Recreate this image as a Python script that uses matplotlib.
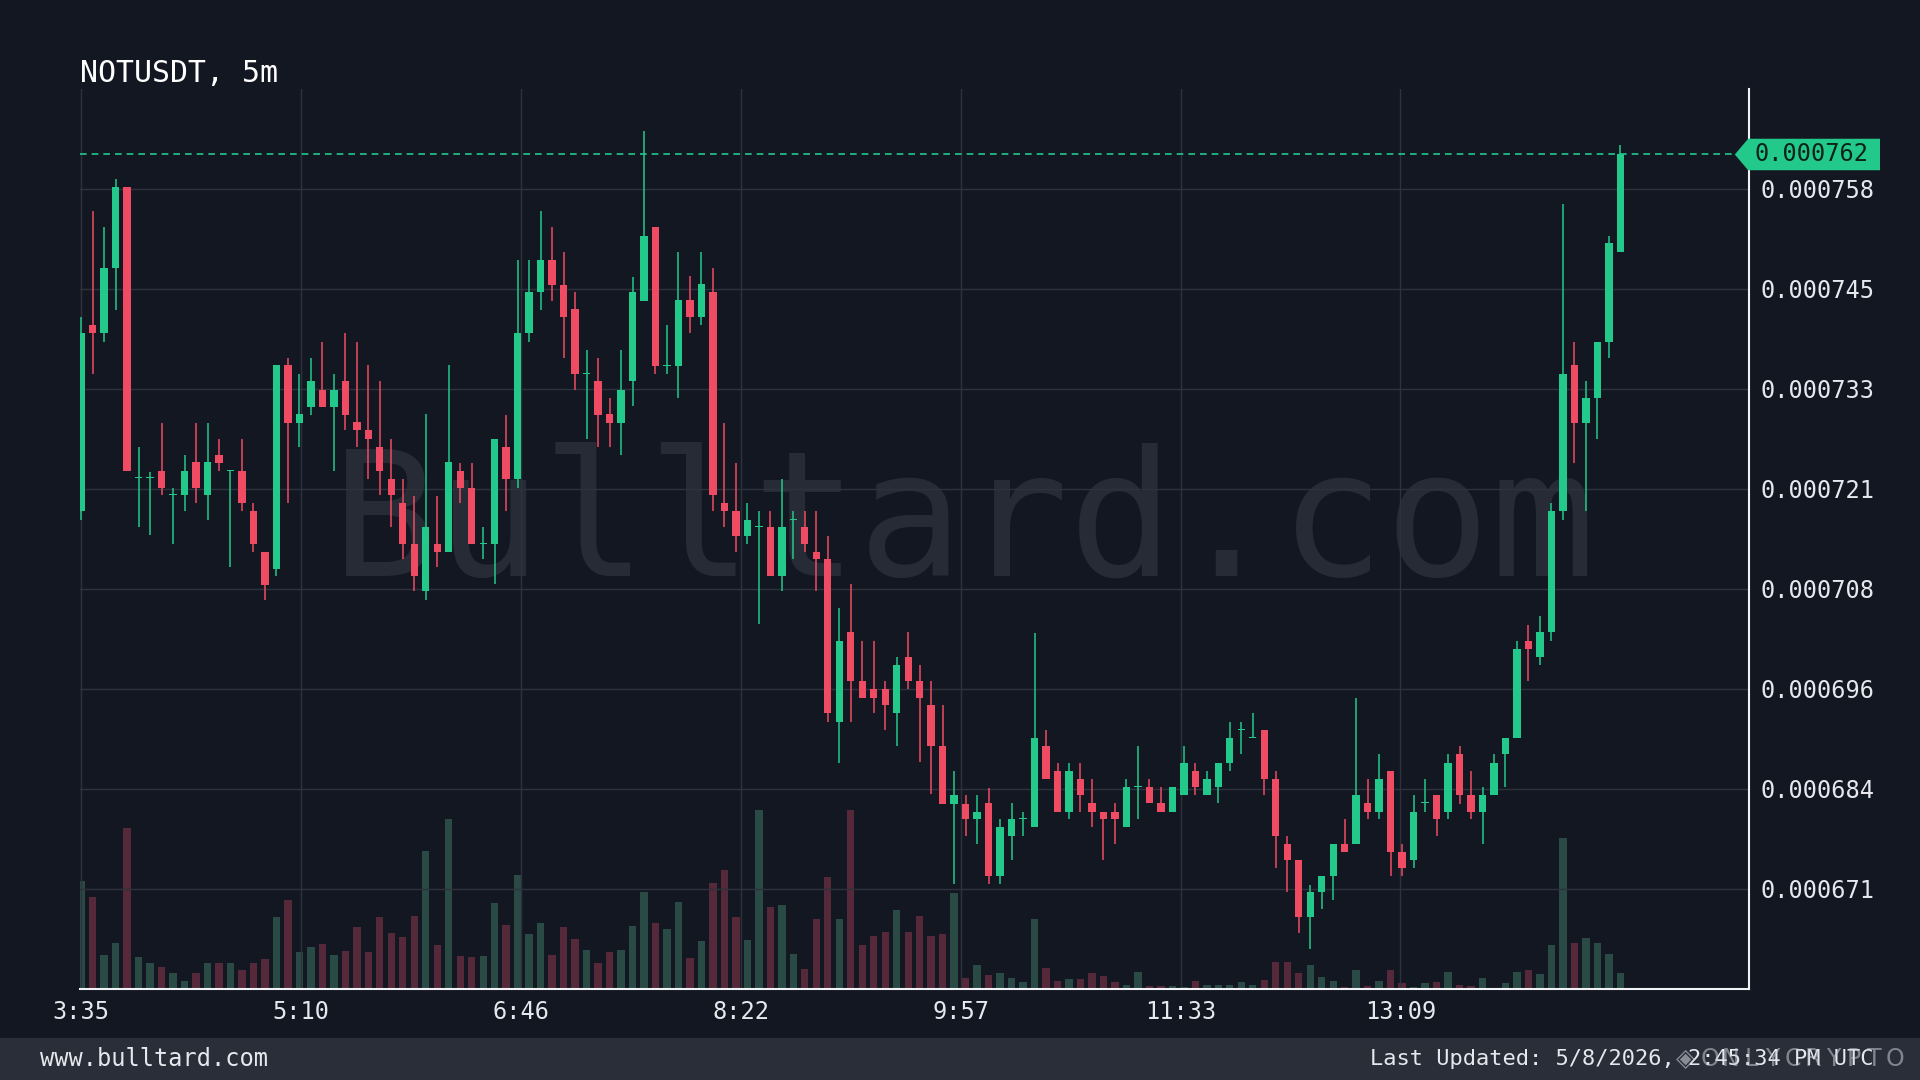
import numpy as np
import matplotlib.pyplot as plt
from matplotlib.patches import Polygon, Rectangle
from matplotlib.transforms import blended_transform_factory

# ---------- DATA ----------
# NOTUSDT 5m candles (prices in units of 1e-6 USDT)
opens = np.array([
    717.98, 741.06, 740.02, 748.09, 758.10, 722.08, 722.08, 722.91, 719.99, 719.99,
    724.03, 719.99, 724.93, 722.91, 722.91, 717.98, 712.97, 710.81, 736.06, 728.89,
    730.91, 733.00, 730.91, 734.04, 729.03, 727.99, 725.97, 721.94, 718.95, 713.94,
    708.03, 713.94, 712.97, 722.91, 720.90, 713.94, 713.94, 725.97, 721.94, 740.02,
    745.10, 749.06, 746.00, 743.01, 734.94, 734.04, 730.01, 728.89, 734.04, 744.00,
    753.10, 735.99, 735.99, 744.06, 741.97, 745.10, 718.95, 717.98, 714.91, 715.96,
    715.96, 709.98, 716.93, 715.96, 712.97, 712.00, 691.90, 702.95, 696.90, 695.93,
    695.93, 692.94, 699.89, 696.90, 693.91, 688.90, 681.74, 681.74, 679.79, 681.81,
    672.77, 677.77, 679.79, 678.82, 688.90, 685.77, 680.77, 684.80, 681.81, 680.77,
    680.77, 678.82, 683.83, 683.83, 681.81, 680.77, 682.78, 685.77, 682.78, 683.83,
    686.82, 690.92, 689.88, 690.92, 684.80, 676.73, 674.78, 667.69, 670.75, 672.77,
    676.80, 676.73, 681.81, 680.77, 685.77, 675.75, 674.78, 681.81, 682.78, 680.77,
    687.86, 682.78, 680.77, 682.78, 687.86, 689.88, 701.91, 699.89, 702.95, 717.98,
    736.06, 728.89, 732.02, 738.98, 750.04]) * 1e-6

highs = np.array([
    741.97, 755.11, 753.10, 759.15, 758.10, 725.97, 722.84, 728.89, 720.90, 724.93,
    728.89, 728.89, 726.95, 722.91, 726.95, 718.95, 712.97, 736.06, 736.89, 734.94,
    736.96, 738.98, 734.94, 740.02, 738.98, 736.06, 734.04, 726.95, 721.94, 719.85,
    730.01, 719.85, 736.06, 723.89, 723.89, 715.96, 726.95, 729.94, 749.06, 749.06,
    755.11, 753.10, 750.11, 745.10, 737.93, 736.96, 732.02, 737.93, 746.97, 765.06,
    753.10, 741.00, 750.11, 747.04, 750.11, 748.09, 728.89, 723.89, 718.95, 717.98,
    717.98, 721.94, 717.98, 717.98, 717.98, 714.91, 705.94, 709.00, 701.91, 701.91,
    696.90, 699.89, 702.95, 698.92, 696.90, 693.91, 685.77, 682.78, 682.78, 683.69,
    679.79, 681.81, 680.77, 702.88, 690.92, 686.82, 686.82, 686.82, 684.80, 680.77,
    681.81, 684.80, 688.83, 684.80, 683.83, 683.83, 688.83, 686.82, 685.77, 686.82,
    691.90, 691.90, 692.94, 690.92, 685.77, 677.77, 674.78, 671.72, 672.77, 676.80,
    679.79, 694.81, 684.80, 687.86, 685.77, 676.73, 682.78, 684.80, 682.78, 687.86,
    688.83, 685.77, 683.83, 687.86, 689.88, 701.91, 703.93, 704.97, 718.95, 756.02,
    738.98, 734.04, 738.98, 752.05, 763.32]) * 1e-6

lows = np.array([
    716.93, 734.94, 738.98, 742.94, 722.91, 715.96, 714.98, 719.99, 713.94, 717.98,
    718.95, 716.93, 722.91, 711.02, 717.98, 712.97, 707.00, 709.98, 718.95, 725.97,
    729.94, 730.91, 722.98, 727.99, 725.97, 721.94, 719.99, 715.96, 712.00, 708.03,
    707.00, 711.02, 712.97, 718.95, 713.94, 712.00, 709.00, 717.98, 720.90, 738.98,
    742.94, 744.00, 736.96, 733.00, 726.95, 725.97, 725.97, 724.93, 730.98, 744.00,
    734.94, 734.94, 732.02, 740.02, 741.00, 717.98, 715.96, 712.97, 713.94, 704.00,
    709.98, 708.03, 712.00, 712.97, 708.03, 691.90, 686.82, 691.90, 694.88, 692.94,
    690.92, 688.90, 695.93, 686.96, 683.00, 681.74, 671.86, 677.77, 676.73, 671.86,
    671.86, 674.78, 677.77, 678.82, 684.80, 680.77, 679.79, 680.77, 678.82, 674.78,
    676.73, 678.82, 679.79, 681.81, 680.77, 680.77, 682.78, 682.78, 682.78, 681.81,
    685.77, 687.86, 689.88, 682.78, 673.74, 670.75, 665.74, 663.80, 668.73, 669.78,
    675.75, 676.73, 679.79, 679.79, 672.77, 672.77, 673.74, 680.77, 677.77, 679.79,
    681.74, 679.79, 676.73, 682.78, 683.83, 689.88, 696.90, 698.92, 701.91, 716.93,
    723.89, 717.98, 726.95, 736.96, 750.04]) * 1e-6

closes = np.array([
    740.02, 740.02, 748.09, 758.10, 722.91, 722.08, 722.08, 720.90, 719.99, 722.91,
    720.90, 724.03, 723.95, 722.91, 718.95, 713.94, 708.86, 736.06, 728.89, 730.01,
    734.04, 730.91, 733.00, 729.94, 727.99, 726.95, 722.91, 719.99, 713.94, 709.98,
    715.96, 712.97, 724.03, 720.90, 713.94, 713.94, 726.95, 721.94, 740.02, 745.10,
    749.06, 746.00, 741.97, 734.94, 734.94, 729.94, 728.89, 733.00, 745.10, 752.05,
    735.99, 735.99, 744.06, 741.97, 746.07, 719.99, 717.98, 714.91, 716.93, 715.96,
    709.98, 715.96, 716.93, 713.94, 712.00, 692.94, 701.91, 696.90, 694.88, 694.88,
    693.91, 698.92, 696.90, 694.88, 688.90, 681.74, 682.78, 679.79, 680.77, 672.77,
    678.82, 679.79, 679.79, 689.88, 684.80, 680.77, 685.77, 682.78, 680.77, 679.79,
    679.79, 683.83, 683.83, 681.81, 680.77, 683.83, 686.82, 683.83, 684.80, 686.82,
    689.88, 690.92, 689.88, 684.80, 677.77, 674.78, 667.69, 670.75, 672.77, 676.80,
    675.75, 682.78, 680.77, 684.80, 675.75, 673.74, 680.77, 681.81, 679.79, 686.82,
    682.78, 680.77, 682.78, 686.82, 689.88, 700.87, 700.87, 702.95, 717.98, 734.94,
    728.89, 732.02, 738.98, 751.15, 762.14]) * 1e-6

# volume (relative units)
volumes = np.array([
    193, 163, 61, 82, 286, 57, 47, 39, 29, 15,
    29, 47, 47, 47, 34, 47, 53, 129, 158, 66,
    75, 80, 61, 67, 110, 66, 129, 99, 93, 130,
    246, 78, 302, 58, 57, 58, 153, 113, 202, 97,
    118, 61, 111, 89, 69, 47, 66, 69, 112, 173,
    117, 106, 155, 56, 86, 188, 212, 129, 88, 319,
    146, 150, 62, 36, 124, 200, 125, 318, 78, 94,
    101, 140, 101, 130, 94, 98, 171, 20, 42, 25,
    28, 20, 13, 125, 38, 15, 18, 18, 28, 23,
    12, 8, 30, 5, 6, 5, 3, 14, 7, 8,
    7, 12, 8, 16, 48, 48, 28, 43, 21, 14,
    3, 33, 5, 15, 33, 11, 4, 11, 13, 30,
    8, 5, 20, 2, 11, 31, 33, 27, 78, 269,
    82, 91, 81, 63, 28])

time_labels = ["3:35", "5:10", "6:46", "8:22", "9:57", "11:33", "13:09"]
title = "NOTUSDT, 5m"
site = "www.bulltard.com"
updated = "Last Updated: 5/8/2026, 2:45:34 PM UTC"
price_lo, price_hi = 0.0006588, 0.00077025

# ---------- STYLE ----------
BG = '#131722'
FOOT = '#2a2e39'
GREEN = '#22c98b'
RED = '#ef4b63'
VOL_GREEN = '#2a4a45'
VOL_RED = '#55293a'
GRID = '#2e323d'
TEXT = '#e6e8ee'
MONO = 'DejaVu Sans Mono'
plt.rcParams['font.family'] = MONO

n = len(closes)
x = np.arange(n)
up = closes >= opens
cols = np.where(up, GREEN, RED)
vcols = np.where(up, VOL_GREEN, VOL_RED)

# ---------- PLOT ----------
fig = plt.figure(figsize=(19.2, 10.8), dpi=100, facecolor=BG)
ax = fig.add_axes([80 / 1920, 91 / 1080, 1669 / 1920, 900 / 1080])
vax = ax.twinx()
ax.set_zorder(vax.get_zorder() + 1)
ax.patch.set_visible(False)
vax.patch.set_facecolor(BG)

# volume
vax.bar(x, volumes, width=0.64, color=vcols, linewidth=0)
vax.set_ylim(0, volumes.max() * 5.02)
vax.set_yticks([])
for s in vax.spines.values():
    s.set_visible(False)

# candles
ax.vlines(x, lows, highs, colors=cols, linewidth=1.1, zorder=2)
body = np.maximum(np.abs(closes - opens), 1.3e-7)
ax.bar(x, body, bottom=np.minimum(opens, closes), width=0.64,
       color=cols, linewidth=0, zorder=3)

# last price line
last = closes[-1]
ax.axhline(last, color=GREEN, linewidth=1.2, linestyle=(0, (4, 3)), zorder=4)

# watermark
ax.text(0.5297, 0.4594, "Bulltard.com", transform=ax.transAxes,
        ha='center', va='baseline', fontsize=126, color='#272b36', zorder=0.1)

# axes
ax.set_xlim(-0.1, 145.2)
ax.set_ylim(price_lo, price_hi)
ax.set_xticks(np.arange(len(time_labels)) * (n - 1) / 7)
ax.set_xticklabels(time_labels)
yt = np.linspace(price_lo, price_hi, 10)[1:-1]
ax.set_yticks(yt)
ax.set_yticklabels([f"{v:.6f}" for v in yt])
ax.yaxis.tick_right()
ax.tick_params(axis='both', length=0, colors=TEXT, labelsize=17)
ax.tick_params(axis='y', pad=8)
ax.tick_params(axis='x', pad=8)
ax.grid(True, color=GRID, linewidth=1)
ax.set_axisbelow(True)
for side in ['left', 'top']:
    ax.spines[side].set_visible(False)
for side in ['right', 'bottom']:
    ax.spines[side].set_color('#f0f2f5')
    ax.spines[side].set_linewidth(1.5)

# price tag on the right axis
tr = blended_transform_factory(ax.transAxes, ax.transData)
h = 1.95e-6
tag = Polygon([(0.9915, last), (0.9995, last + h), (1.0785, last + h),
               (1.0785, last - h), (0.9995, last - h)], closed=True,
              transform=tr, facecolor=GREEN, edgecolor='none',
              clip_on=False, zorder=10)
ax.add_patch(tag)
ax.text(1.0375, last, f"{last:.6f}", transform=tr, ha='center', va='center',
        fontsize=17, color='#0b231a', clip_on=False, zorder=11)

# title
fig.text(80 / 1920, 1 - 73 / 1080, title, ha='left', va='center',
         fontsize=21.5, color='white')

# footer
fig.patches.append(Rectangle((0, 0), 1, 42 / 1080, transform=fig.transFigure,
                             facecolor=FOOT, edgecolor='none', zorder=0))
fy = 21 / 1080
fig.text(40 / 1920, fy, site, ha='left', va='center', fontsize=17, color=TEXT)
fig.text(1370 / 1920, fy, updated, ha='left', va='center', fontsize=15.8,
         color=TEXT)
fig.text(1686 / 1920, fy, "\u25c8", ha='center', va='center', fontsize=18,
         color='#c8ccd4', alpha=0.6, family='DejaVu Sans')
for i, ch in enumerate("ONLYCRYPTO"):
    fig.text((1710 + i * 20.6) / 1920, fy, ch, ha='center', va='center',
             fontsize=17, color='#c8ccd4', alpha=0.55, family='DejaVu Sans')

fig.savefig("out.png", dpi=100, facecolor=BG)
